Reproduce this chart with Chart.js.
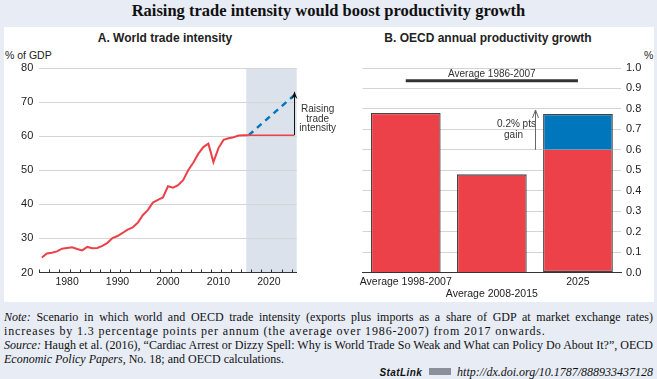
<!DOCTYPE html>
<html><head><meta charset="utf-8">
<script src="https://cdn.jsdelivr.net/npm/chart.js@4.4.1/dist/chart.umd.min.js"></script>
<style>
html,body{margin:0;padding:0;}
body{width:657px;height:379px;background:#E7ECF5;position:relative;overflow:hidden;font-family:'Liberation Sans',Arial,sans-serif;}
#title{position:absolute;left:0;width:657px;top:1px;text-align:center;font-family:'Liberation Serif',serif;font-weight:bold;font-size:16.5px;color:#111;}
#panel{position:absolute;left:4px;top:27px;width:650px;height:275px;background:#fff;}
.ptitle{position:absolute;top:31px;font-weight:bold;font-size:12px;color:#222;white-space:nowrap;transform:translateX(-50%);}
.unit{position:absolute;top:49px;font-size:10.5px;color:#222;white-space:nowrap;}
canvas{position:absolute;}
.note{position:absolute;left:4px;font-family:'Liberation Serif',serif;font-size:12px;color:#111;white-space:nowrap;line-height:14px;}
.note i{letter-spacing:0;}
.just{width:649px;text-align:justify;text-align-last:justify;}
.stat{position:absolute;right:4px;top:365px;font-size:12px;color:#111;white-space:nowrap;line-height:14px;}
.stat b{font-family:'Liberation Sans',sans-serif;font-style:italic;font-size:10px;letter-spacing:0.4px;}
.stat i{font-family:'Liberation Serif',serif;}
.icon{display:inline-block;width:22px;height:7px;background:#8a8f99;margin:0 6px 0 7px;vertical-align:1px;}
</style>
</head><body>
<div id="title">Raising trade intensity would boost productivity growth</div>
<div id="panel"></div>
<div class="ptitle" style="left:165px">A. World trade intensity</div>
<div class="ptitle" style="left:488px">B. OECD annual productivity growth</div>
<div class="unit" style="left:5px">% of GDP</div>
<div class="unit" style="left:644px">%</div>
<canvas id="c1" width="336" height="275" style="left:4px;top:27px"></canvas>
<canvas id="c2" width="313" height="275" style="left:340px;top:27px"></canvas>
<div class="note just" style="top:310px"><i>Note:</i> Scenario in which world and OECD trade intensity (exports plus imports as a share of GDP at market exchange rates)</div>
<div class="note" style="top:324px;letter-spacing:0.85px">increases by 1.3 percentage points per annum (the average over 1986-2007) from 2017 onwards.</div>
<div class="note just" style="top:338px"><i>Source:</i> Haugh et al. (2016), “Cardiac Arrest or Dizzy Spell: Why is World Trade So Weak and What can Policy Do About It?”, OECD</div>
<div class="note" style="top:352px"><i>Economic Policy Papers</i>, No. 18; and OECD calculations.</div>
<div class="stat"><b>StatLink</b><span class="icon"></span><i>http://dx.doi.org/10.1787/888933437128</i></div>
<script>
// ---------- Panel A data ----------
const years = [1975,1976,1977,1978,1979,1980,1981,1982,1983,1984,1985,1986,1987,1988,1989,1990,1991,1992,1993,1994,1995,1996,1997,1998,1999,2000,2001,2002,2003,2004,2005,2006,2007,2008,2009,2010,2011,2012,2013,2014,2015,2016];
const tradeIntensity = [24.4,25.6,25.8,26.2,27.0,27.2,27.4,26.9,26.5,27.5,27.1,27.2,27.8,28.7,30.1,30.7,31.6,32.6,33.2,34.6,36.8,38.3,40.5,41.3,42.0,45.3,44.9,45.6,47.1,50.0,52.2,54.8,56.8,57.8,52.4,56.5,58.9,59.4,59.7,60.2,60.3,60.3];
const baselineYears = [2016,2025];
const baselineValues = [60.3,60.3];
const scenarioYears = [2016,2025];
const scenarioValues = [60.3,72.0];
const xTickLabels = [1980,1990,2000,2010,2020];
const yTicksA = [20,30,40,50,60,70,80];
const projectionStart = 2015.5, projectionEnd = 2025.5;
const arrowA = {x:2025, from:60.3, to:73.2};
const annotA = ['Raising','trade','intensity'];

// ---------- Panel B data ----------
const barCategories = [['Average 1998-2007'],['','Average 2008-2015'],['2025']];
const baseGrowth = [0.78,0.48,0.60];
const tradeGain = [0,0,0.175];
const avg19862007 = [0.938,0.938,0.938];
const yTicksB = [0,0.1,0.2,0.3,0.4,0.5,0.6,0.7,0.8,0.9,1.0];

Chart.defaults.font.family = "'Liberation Sans', Arial, sans-serif";
Chart.defaults.font.size = 10.5;
Chart.defaults.color = '#222';
Chart.defaults.animation = false;

const RED = '#EC4149', BLUE = '#0077BD';

function arrow(ctx, x, y0, y1, color, filled){
  ctx.save();
  ctx.strokeStyle = color; ctx.fillStyle = color; ctx.lineWidth = 1;
  ctx.beginPath(); ctx.moveTo(x, y0); ctx.lineTo(x, y1+1); ctx.stroke();
  ctx.beginPath(); ctx.moveTo(x-3, y1+8); ctx.lineTo(x, y1); ctx.lineTo(x+3, y1+8);
  if (filled){ ctx.lineTo(x, y1+5); ctx.closePath(); ctx.fill(); } else ctx.stroke();
  ctx.restore();
}

const decoA = {
  id:'decoA',
  beforeDraw(chart){
    const {ctx, chartArea:a, scales:{x}} = chart;
    const x0 = x.getPixelForValue(projectionStart), x1 = x.getPixelForValue(projectionEnd);
    ctx.save(); ctx.fillStyle = '#DCE2EB';
    ctx.fillRect(x0, a.top, x1-x0, a.bottom-a.top);
    ctx.restore();
  },
  afterDraw(chart){
    const {ctx, chartArea:a, scales:{x,y}} = chart;
    ctx.save();
    ctx.strokeStyle = '#333'; ctx.lineWidth = 1;
    for (let v = 1974.5; v <= 2025.5; v += 2){
      const px = Math.round(x.getPixelForValue(v)) + 0.5;
      ctx.beginPath(); ctx.moveTo(px, a.bottom); ctx.lineTo(px, a.bottom-3); ctx.stroke();
    }
    ctx.restore();
    arrow(ctx, Math.round(x.getPixelForValue(arrowA.x))+0.5, y.getPixelForValue(arrowA.from), y.getPixelForValue(arrowA.to), '#111', true);
    ctx.save();
    ctx.fillStyle = '#333'; ctx.font = "10px 'Liberation Sans', Arial, sans-serif";
    ctx.textAlign = 'center'; ctx.textBaseline = 'middle';
    const tx = a.right + 21;
    [68.0,65.1,62.2].forEach((v,i)=> ctx.fillText(annotA[i], tx, y.getPixelForValue(v)));
    ctx.restore();
  }
};

new Chart(document.getElementById('c1'), {
  type:'line',
  data:{datasets:[
    {data: years.map((yr,i)=>({x:yr, y:tradeIntensity[i]})), borderColor:RED, borderWidth:2, pointRadius:0, tension:0},
    {data: baselineYears.map((yr,i)=>({x:yr, y:baselineValues[i]})), borderColor:RED, borderWidth:1.5, pointRadius:0},
    {data: scenarioYears.map((yr,i)=>({x:yr, y:scenarioValues[i]})), borderColor:BLUE, borderWidth:2.5, borderDash:[6,5], pointRadius:0}
  ]},
  options:{
    responsive:false, devicePixelRatio:1,
    layout:{padding:{left:0, right:43.3, top:41, bottom:0}},
    plugins:{legend:{display:false}, tooltip:{enabled:false}},
    scales:{
      x:{type:'linear', min:1974.5, max:2025.5,
         afterBuildTicks: s => { s.ticks = xTickLabels.map(v=>({value:v})); },
         afterFit: s => { s.height = 29.5; },
         ticks:{padding:3, callback:v=>String(v), maxRotation:0, autoSkip:false},
         grid:{drawOnChartArea:false, drawTicks:false},
         border:{display:true, color:'#333', width:1}},
      y:{min:20, max:80,
         afterBuildTicks: s => { s.ticks = yTicksA.map(v=>({value:v})); },
         afterFit: s => { s.width = 35.3; },
         ticks:{padding:6, font:{size:11}},
         grid:{drawTicks:false, color: c => c.tick && c.tick.value===20 ? 'rgba(0,0,0,0)' : '#D4D4D4'},
         border:{display:false}}
    }
  },
  plugins:[decoA]
});

const decoB = {
  id:'decoB',
  afterDraw(chart){
    const {ctx, scales:{x,y}} = chart;
    ctx.save();
    ctx.fillStyle = '#333'; ctx.font = "10px 'Liberation Sans', Arial, sans-serif";
    ctx.textAlign = 'center'; ctx.textBaseline = 'middle';
    ctx.fillText('Average 1986-2007', x.getPixelForValue(1), y.getPixelForValue(0.969));
    const ax = Math.round((x.getPixelForValue(1)+x.getPixelForValue(2))/2)+0.5;
    ctx.fillText('0.2% pts', ax-19, y.getPixelForValue(0.724));
    ctx.fillText('gain', ax-22, y.getPixelForValue(0.67));
    ctx.restore();
    arrow(ctx, ax, y.getPixelForValue(baseGrowth[2]), y.getPixelForValue(0.795), '#666', false);
  }
};

new Chart(document.getElementById('c2'), {
  type:'bar',
  data:{labels:barCategories, datasets:[
    {type:'line', data:avg19862007, borderColor:'#333', borderWidth:3, pointRadius:0, stack:'avg', order:0},
    {data:baseGrowth, backgroundColor:RED, borderColor:'#444', borderWidth:1.3, stack:'bars', order:1,
     borderSkipped: c => c.dataIndex===2 ? 'top' : 'bottom'},
    {data:tradeGain, backgroundColor:BLUE, borderColor:'#444', borderWidth:1.3, stack:'bars', order:2,
     borderSkipped:'bottom'}
  ]},
  options:{
    responsive:false, devicePixelRatio:1,
    barPercentage:0.81, categoryPercentage:1,
    layout:{padding:{left:22.7, right:0, top:41, bottom:0}},
    plugins:{legend:{display:false}, tooltip:{enabled:false}},
    scales:{
      x:{stacked:true,
         afterFit: s => { s.height = 29.5; },
         ticks:{padding:3, maxRotation:0, autoSkip:false},
         grid:{drawOnChartArea:false, drawTicks:false},
         border:{display:true, color:'#333', width:1}},
      y:{stacked:true, position:'right', min:0, max:1.0,
         afterBuildTicks: s => { s.ticks = yTicksB.map(v=>({value:v})); },
         afterFit: s => { s.width = 32; },
         ticks:{padding:5, font:{size:11}, callback:v=>Number(v).toFixed(1)},
         grid:{drawTicks:false, color: c => c.tick && c.tick.value===0 ? 'rgba(0,0,0,0)' : '#D4D4D4'},
         border:{display:false}}
    }
  },
  plugins:[decoB]
});
</script>
</body></html>
